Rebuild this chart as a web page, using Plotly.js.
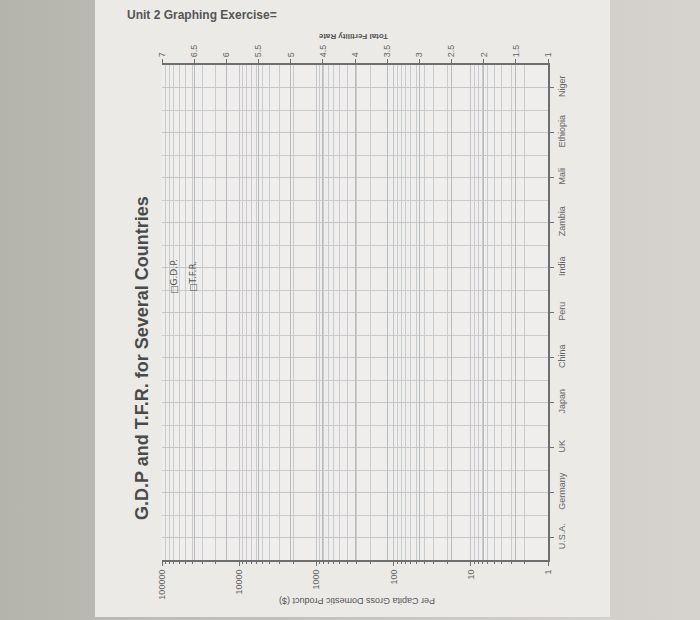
<!DOCTYPE html>
<html>
<head>
<meta charset="utf-8">
<script src="https://cdn.plot.ly/plotly-3.0.1.min.js"></script>
<style>
  html, body { margin: 0; padding: 0; }
  body { width: 700px; height: 620px; position: relative; overflow: hidden;
         background: linear-gradient(to right, #b4b3ac 0px, #b9b8b1 95px, #d3d0cc 610px, #d6d3cf 700px); }
  #page { position: absolute; left: 95px; top: 0; width: 515px; height: 617px; background: #ebeae7; }
  #chart { position: absolute; left: 0; top: 0; width: 700px; height: 620px; }
</style>
</head>
<body>
<div id="page"></div>
<div id="chart"></div>
<script>
// Categories (worksheet is blank: no values have been plotted yet)
const countries = ['U.S.A.', 'Germany', 'UK', 'Japan', 'China', 'Peru', 'India', 'Zambia', 'Mali', 'Ethiopia', 'Niger'];
const gdpValues = [null, null, null, null, null, null, null, null, null, null, null];
const tfrValues = [null, null, null, null, null, null, null, null, null, null, null];
const gdpTickVals = [1, 10, 100, 1000, 10000, 100000];
const gdpTickLabels = ['1', '10', '100', '1000', '10000', '100000'];
const tfrTickVals = [1, 1.5, 2, 2.5, 3, 3.5, 4, 4.5, 5, 5.5, 6, 6.5, 7];
const tfrTickLabels = ['1', '1.5', '2', '2.5', '3', '3.5', '4', '4.5', '5', '5.5', '6', '6.5', '7'];

const idx = countries.map((c, i) => i);
const tickFont = { family: 'Liberation Sans, Arial, sans-serif', size: 9, color: '#666' };
const axisLine = '#6d6e70';

const traces = [
  { type: 'bar', orientation: 'h', name: 'G.D.P.', x: gdpValues, y: idx, xaxis: 'x', yaxis: 'y',
    marker: { color: 'rgba(0,0,0,0)', line: { color: '#777', width: 1 } }, showlegend: false, hoverinfo: 'skip' },
  { type: 'bar', orientation: 'h', name: 'T.F.R.', x: tfrValues, y: idx, xaxis: 'x2', yaxis: 'y',
    marker: { color: 'rgba(0,0,0,0)', line: { color: '#777', width: 1 } }, showlegend: false, hoverinfo: 'skip' }
];

const L = 162, R = 548, T = 65, B = 560;
const px = v => (v - L) / (R - L);
const py = v => (B - v) / (B - T);

const layout = {
  width: 700, height: 620,
  margin: { l: L, r: 700 - R, t: T, b: 620 - B },
  paper_bgcolor: 'rgba(0,0,0,0)',
  plot_bgcolor: '#efeeec',
  showlegend: false,
  font: { family: 'Liberation Sans, Arial, sans-serif', color: '#555' },
  xaxis: {
    type: 'log', range: [5, 0], side: 'bottom',
    tickmode: 'array', tickvals: gdpTickVals, ticktext: gdpTickLabels,
    tickangle: -90, tickfont: tickFont,
    showgrid: true, gridcolor: '#c3c6c9', gridwidth: 1,
    ticks: 'outside', ticklen: 4, tickcolor: axisLine,
    minor: { dtick: 'D1', showgrid: true, gridcolor: '#c9cccf', gridwidth: 1, ticks: 'outside', ticklen: 2, tickcolor: axisLine },
    showline: true, linecolor: axisLine, linewidth: 2, zeroline: false, fixedrange: true
  },
  xaxis2: {
    overlaying: 'x', side: 'top', range: [7, 1],
    tickmode: 'array', tickvals: tfrTickVals, ticktext: tfrTickLabels,
    tickangle: -90, tickfont: tickFont,
    showgrid: true, gridcolor: '#b9bcbf', gridwidth: 1,
    ticks: 'outside', ticklen: 4, tickcolor: axisLine,
    showline: true, linecolor: axisLine, linewidth: 2, zeroline: false, fixedrange: true
  },
  yaxis: {
    side: 'right', range: [-0.5, countries.length - 0.5],
    tickmode: 'array', tickvals: idx, ticktext: countries,
    tickangle: -90, tickfont: tickFont,
    showgrid: true, gridcolor: '#c3c6c9', gridwidth: 1,
    ticks: 'outside', ticklen: 4, tickcolor: axisLine,
    minor: { tick0: 0.5, dtick: 1, showgrid: true, gridcolor: '#c9cccf', gridwidth: 1, ticks: '' },
    showline: true, linecolor: axisLine, linewidth: 2, zeroline: false, fixedrange: true
  },
  annotations: [
    { text: '<b>Unit 2 Graphing Exercise=</b>', xref: 'paper', yref: 'paper', x: px(125), y: py(15),
      xanchor: 'left', yanchor: 'middle', showarrow: false,
      font: { family: 'Liberation Sans, Arial, sans-serif', size: 12, color: '#555' } },
    { text: '<b>G.D.P and T.F.R. for Several Countries</b>', xref: 'paper', yref: 'paper', x: px(142), y: py(358),
      xanchor: 'center', yanchor: 'middle', textangle: -90, showarrow: false,
      font: { family: 'Liberation Sans, Arial, sans-serif', size: 18, color: '#4a4a4a' } },
    { text: '<b>Total Fertility Rate</b>', xref: 'paper', yref: 'paper', x: px(353), y: py(37),
      xanchor: 'center', yanchor: 'middle', textangle: 180, showarrow: false,
      font: { family: 'Liberation Sans, Arial, sans-serif', size: 8, color: '#555' } },
    { text: 'Per Capita Gross Domestic Product ($)', xref: 'paper', yref: 'paper', x: px(357), y: py(601),
      xanchor: 'center', yanchor: 'middle', textangle: 180, showarrow: false,
      font: { family: 'Liberation Sans, Arial, sans-serif', size: 9, color: '#555' } },
    { text: '\u25A1G.D.P.', xref: 'paper', yref: 'paper', x: px(174), y: py(277),
      xanchor: 'center', yanchor: 'middle', textangle: -90, showarrow: false,
      font: { family: 'DejaVu Sans, sans-serif', size: 9, color: '#555' } },
    { text: '\u25A1T.F.R.', xref: 'paper', yref: 'paper', x: px(193), y: py(277),
      xanchor: 'center', yanchor: 'middle', textangle: -90, showarrow: false,
      font: { family: 'DejaVu Sans, sans-serif', size: 9, color: '#555' } }
  ]
};

Plotly.newPlot('chart', traces, layout, { displayModeBar: false, staticPlot: true });
</script>
</body>
</html>
